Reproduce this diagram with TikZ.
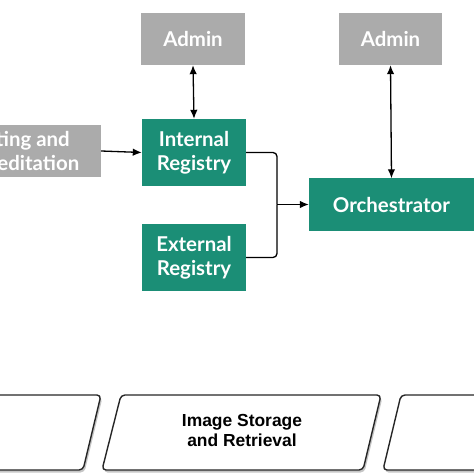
\documentclass[tikz,border=0pt]{standalone}
\usepackage{fontspec}
\setmainfont{Lato}
\newfontfamily\arialf{Liberation Sans}
\usetikzlibrary{arrows.meta,shadows}
\definecolor{teal1}{RGB}{27,142,118}
\definecolor{gray1}{RGB}{171,171,171}
\begin{document}
\begin{tikzpicture}[x=1bp,y=-1bp,
  box/.style={inner sep=0pt,align=center,text=white,font=\fontsize{20.5}{24}\selectfont\bfseries},
  greybox/.style={box,fill=gray1},
  tealbox/.style={box,fill=teal1},
  conn/.style={line width=1.3bp,black},
  tip/.style={-{Latex[length=9bp,width=7.5bp]}},
  dtip/.style={{Latex[length=9bp,width=7.5bp]}-{Latex[length=9bp,width=7.5bp]}},
  para/.style={draw=black!85,line width=1.4bp,fill=white,rounded corners=4bp,
    drop shadow={shadow xshift=1.5bp,shadow yshift=-2.5bp,opacity=0.45}}]
\useasboundingbox (0,0) rectangle (474,474);
\node[greybox,minimum width=104bp,minimum height=52bp] (adm1) at (193,39) {Admin};
\node[greybox,minimum width=103bp,minimum height=52bp] (adm2) at (390.5,39) {Admin};
\node[tealbox,minimum width=104bp,minimum height=67bp] (int) at (194,152.5) {Internal\\Registry};
\node[tealbox,minimum width=104bp,minimum height=67bp] (ext) at (194,257.5) {External\\Registry};
\node[greybox,minimum width=166bp,minimum height=52bp] (test) at (18,151) {Testing and\\Accreditation};
\node[tealbox,minimum width=165bp,minimum height=52bp] (orch) at (391.5,204.5) {Orchestrator};
\coordinate (j) at (277,204.5);
\draw[conn,dtip] (adm1.south) -- (int.north);
\draw[conn,dtip] (adm2.south) -- (orch.north);
\draw[conn,tip] (test.east) -- (int.west);
\draw[conn,rounded corners=4bp] (int.east) -| (j);
\draw[conn,rounded corners=4bp] (ext.east) -| (j);
\draw[conn,tip] (j) -- (orch.west);
\path[para] (-100,395) -- (101,395) -- (83,470) -- (-120,470) -- cycle;
\path[para] (121,395) -- (381,395) -- (363,470) -- (102,470) -- cycle;
\path[para] (401,395) -- (574,395) -- (556,470) -- (383,470) -- cycle;
\node[align=center,inner sep=0pt,font=\arialf\fontsize{17.5}{21}\selectfont\bfseries] (isr) at (242,430.5) {Image Storage\\and Retrieval};
\end{tikzpicture}
\end{document}
